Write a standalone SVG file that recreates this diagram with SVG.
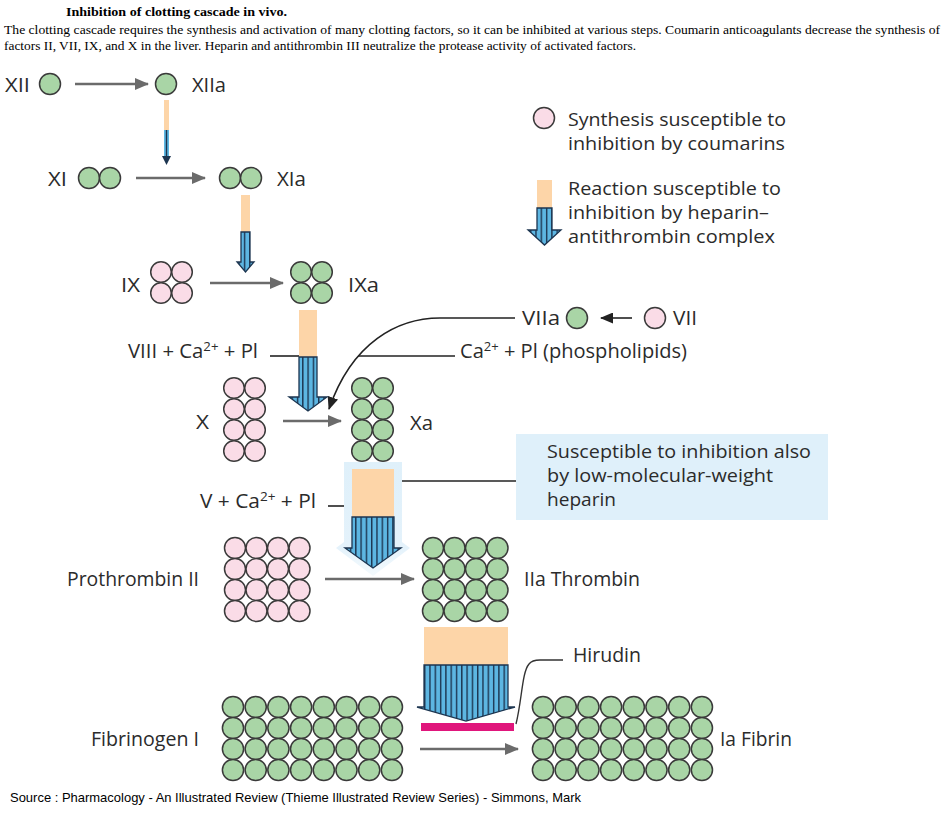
<svg xmlns="http://www.w3.org/2000/svg" width="944" height="813" viewBox="0 0 944 813">
<style>
.hdr{font-family:"Liberation Serif","Times New Roman",serif;font-size:13.5px;fill:#000}
.lbl{font-family:"Open Sans","Noto Sans",sans-serif;font-size:20px;fill:#2b2b2b}
.ml{font-size:19px}
.src{font-family:"Liberation Sans",Arial,sans-serif;font-size:13.5px;fill:#000}
.g{fill:#a9d5a6;stroke:#3a3a3a;stroke-width:1.5}
.p{fill:#fadce7;stroke:#3a3a3a;stroke-width:1.5}
.beige{fill:#fdd5a8}
.conv{stroke:#6b6b6b;stroke-width:2.5;fill:none}
.blk{stroke:#222;stroke-width:1.6;fill:none}
.striped{fill:url(#stripes);stroke:#1c3550;stroke-width:1.3}
</style>
<defs>
<pattern id="stripes" width="5.3" height="10" patternUnits="userSpaceOnUse">
<rect width="5.3" height="10" fill="#5db6e2"/>
<rect x="0" width="1.4" height="10" fill="#1c3550"/>
</pattern>
<linearGradient id="glow" x1="0" y1="0" x2="0" y2="1">
<stop offset="0" stop-color="#dff0fa"/>
<stop offset="0.75" stop-color="#e4f2fb"/>
<stop offset="1" stop-color="#f4fafd"/>
</linearGradient>
<marker id="ah" markerUnits="userSpaceOnUse" markerWidth="14" markerHeight="12" refX="13" refY="6" orient="auto">
<path d="M0,0 L14,6 L0,12 Z" fill="#6b6b6b"/>
</marker>
<marker id="bh" markerUnits="userSpaceOnUse" markerWidth="13" markerHeight="11" refX="12" refY="5.5" orient="auto">
<path d="M0,0 L13,5.5 L0,11 Z" fill="#222"/>
</marker>
</defs>
<rect width="944" height="813" fill="#fff"/>

<g id="header">
<text class="hdr" x="66" y="16" font-weight="bold" textLength="221" lengthAdjust="spacingAndGlyphs">Inhibition of clotting cascade in vivo.</text>
<text class="hdr" x="4" y="34" textLength="936" lengthAdjust="spacingAndGlyphs">The clotting cascade requires the synthesis and activation of many clotting factors, so it can be inhibited at various steps. Coumarin anticoagulants decrease the synthesis of</text>
<text class="hdr" x="4" y="50" textLength="632" lengthAdjust="spacingAndGlyphs">factors II, VII, IX, and X in the liver. Heparin and antithrombin III neutralize the protease activity of activated factors.</text>
</g>

<g id="connectors">
<line class="conv" x1="75" y1="84" x2="148" y2="84" marker-end="url(#ah)"/>
<line class="conv" x1="136" y1="178" x2="205" y2="178" marker-end="url(#ah)"/>
<line class="conv" x1="210" y1="283" x2="283" y2="283" marker-end="url(#ah)"/>
<line class="conv" x1="283" y1="421" x2="341" y2="421" marker-end="url(#ah)"/>
<line class="conv" x1="325" y1="579" x2="414" y2="579" marker-end="url(#ah)"/>
<line class="conv" x1="420" y1="749" x2="518" y2="749" marker-end="url(#ah)"/>
<line class="blk" x1="632" y1="318" x2="601" y2="318" marker-end="url(#bh)"/>
<path class="blk" d="M515,318 L440,318 C398,318 352,342 329,409" marker-end="url(#bh)"/>
<line class="blk" x1="270" y1="356" x2="300" y2="356"/>
<line class="blk" x1="358" y1="356" x2="455" y2="356"/>
<line class="blk" x1="328" y1="506" x2="352" y2="506"/>
<line class="blk" x1="398" y1="481" x2="516" y2="481"/>
<path d="M516,724 C522,700 522,672 529,664 Q532,660 540,660 L563,660" fill="none" stroke="#333" stroke-width="1.4"/>
</g>

<g id="inhibition-arrows">
<rect class="beige" x="164" y="100" width="5" height="30"/>
<rect x="164" y="130" width="5" height="26" fill="#5db6e2"/>
<line x1="166.5" y1="130" x2="166.5" y2="158" stroke="#1c3550" stroke-width="1.4"/>
<path d="M162,156 L171,156 L166.5,165 Z" fill="#1c3550"/>
<rect class="beige" x="241" y="195" width="9" height="37"/>
<path class="striped" d="M241,232 L250,232 L250,262 L254,262 L245.5,272 L237,262 L241,262 Z"/>
<rect class="beige" x="299" y="310" width="18" height="47"/>
<path class="striped" d="M299,357 L317,357 L317,397 L327,397 L308,411 L289,397 L299,397 Z"/>
<path d="M344,462 L402,462 L402,542 L410,548 L373,576 L336,548 L344,542 Z" fill="url(#glow)"/>
<rect class="beige" x="352" y="469" width="42" height="48"/>
<path class="striped" d="M352,517 L394,517 L394,548 L401,548 L373,568 L345,548 L352,548 Z"/>
<rect class="beige" x="424" y="627" width="84" height="38"/>
<path class="striped" d="M424,665 L508,665 L508,707 L515,707 L466,721 L417,707 L424,707 Z"/>
<rect x="421" y="723" width="93" height="8" fill="#e0167c"/>
</g>

<g id="legend">
<circle class="p" cx="544" cy="118" r="10.5"/>
<text class="lbl ml" x="568" y="126" textLength="218" lengthAdjust="spacingAndGlyphs">Synthesis susceptible to</text>
<text class="lbl ml" x="568" y="150" textLength="217" lengthAdjust="spacingAndGlyphs">inhibition by coumarins</text>
<rect class="beige" x="537" y="180" width="15" height="28"/>
<path class="striped" d="M537,208 L552,208 L552,230 L561,230 L544.5,245 L528,230 L537,230 Z"/>
<text class="lbl ml" x="568" y="195" textLength="213" lengthAdjust="spacingAndGlyphs">Reaction susceptible to</text>
<text class="lbl ml" x="568" y="219" textLength="201" lengthAdjust="spacingAndGlyphs">inhibition by heparin–</text>
<text class="lbl ml" x="568" y="243" textLength="207" lengthAdjust="spacingAndGlyphs">antithrombin complex</text>
</g>

<g id="XII">
<text class="lbl" x="5" y="92" textLength="25" lengthAdjust="spacingAndGlyphs">XII</text>
<circle class="g" cx="50" cy="84" r="10.5"/>
</g>
<g id="XIIa">
<circle class="g" cx="166" cy="84" r="10.5"/>
<text class="lbl" x="192" y="92" textLength="34" lengthAdjust="spacingAndGlyphs">XIIa</text>
</g>
<g id="XI">
<text class="lbl" x="48" y="186" textLength="19" lengthAdjust="spacingAndGlyphs">XI</text>
<circle class="g" cx="89" cy="178" r="10.5"/>
<circle class="g" cx="110" cy="178" r="10.5"/>
</g>
<g id="XIa">
<circle class="g" cx="230" cy="178" r="10.5"/>
<circle class="g" cx="251" cy="178" r="10.5"/>
<text class="lbl" x="277" y="186" textLength="29" lengthAdjust="spacingAndGlyphs">XIa</text>
</g>
<g id="IX">
<text class="lbl" x="121" y="292" textLength="19" lengthAdjust="spacingAndGlyphs">IX</text>
<circle class="p" cx="161" cy="272" r="10.3"/><circle class="p" cx="182" cy="272" r="10.3"/>
<circle class="p" cx="161" cy="293" r="10.3"/><circle class="p" cx="182" cy="293" r="10.3"/>
</g>
<g id="IXa">
<circle class="g" cx="301" cy="272" r="10.3"/><circle class="g" cx="322" cy="272" r="10.3"/>
<circle class="g" cx="301" cy="293" r="10.3"/><circle class="g" cx="322" cy="293" r="10.3"/>
<text class="lbl" x="348" y="292" textLength="31" lengthAdjust="spacingAndGlyphs">IXa</text>
</g>
<g id="cofactor-VIII">
<text class="lbl" x="128" y="358" textLength="130" lengthAdjust="spacingAndGlyphs">VIII + Ca<tspan font-size="13" dy="-7">2+</tspan><tspan dy="7"> + Pl</tspan></text>
</g>
<g id="cofactor-Pl">
<text class="lbl" x="460" y="358" textLength="227" lengthAdjust="spacingAndGlyphs">Ca<tspan font-size="13" dy="-7">2+</tspan><tspan dy="7"> + Pl (phospholipids)</tspan></text>
</g>
<g id="VIIa">
<text class="lbl" x="522" y="325" textLength="38" lengthAdjust="spacingAndGlyphs">VIIa</text>
<circle class="g" cx="577" cy="318" r="10.5"/>
</g>
<g id="VII">
<circle class="p" cx="655" cy="318" r="10.5"/>
<text class="lbl" x="673" y="325" textLength="24" lengthAdjust="spacingAndGlyphs">VII</text>
</g>
<g id="X">
<text class="lbl" x="196" y="429" textLength="13" lengthAdjust="spacingAndGlyphs">X</text>
<circle class="p" cx="234" cy="388" r="10.3"/><circle class="p" cx="255" cy="388" r="10.3"/>
<circle class="p" cx="234" cy="409" r="10.3"/><circle class="p" cx="255" cy="409" r="10.3"/>
<circle class="p" cx="234" cy="430" r="10.3"/><circle class="p" cx="255" cy="430" r="10.3"/>
<circle class="p" cx="234" cy="451" r="10.3"/><circle class="p" cx="255" cy="451" r="10.3"/>
</g>
<g id="Xa">
<circle class="g" cx="362" cy="388" r="10.3"/><circle class="g" cx="383" cy="388" r="10.3"/>
<circle class="g" cx="362" cy="409" r="10.3"/><circle class="g" cx="383" cy="409" r="10.3"/>
<circle class="g" cx="362" cy="430" r="10.3"/><circle class="g" cx="383" cy="430" r="10.3"/>
<circle class="g" cx="362" cy="451" r="10.3"/><circle class="g" cx="383" cy="451" r="10.3"/>
<text class="lbl" x="410" y="430" textLength="23" lengthAdjust="spacingAndGlyphs">Xa</text>
</g>
<g id="cofactor-V">
<text class="lbl" x="200" y="508" textLength="116" lengthAdjust="spacingAndGlyphs">V + Ca<tspan font-size="13" dy="-7">2+</tspan><tspan dy="7"> + Pl</tspan></text>
</g>
<g id="lmwh-note">
<rect x="516" y="434" width="312" height="86" fill="#dff0fa"/>
<text class="lbl ml" x="547" y="458" textLength="264" lengthAdjust="spacingAndGlyphs">Susceptible to inhibition also</text>
<text class="lbl ml" x="547" y="482" textLength="226" lengthAdjust="spacingAndGlyphs">by low-molecular-weight</text>
<text class="lbl ml" x="547" y="506" textLength="69" lengthAdjust="spacingAndGlyphs">heparin</text>
</g>
<g id="prothrombin">
<text class="lbl" x="67" y="586" textLength="132" lengthAdjust="spacingAndGlyphs">Prothrombin II</text>
<g class="p">
<circle cx="235" cy="548" r="10.5"/><circle cx="256.5" cy="548" r="10.5"/><circle cx="278" cy="548" r="10.5"/><circle cx="299.5" cy="548" r="10.5"/>
<circle cx="235" cy="569" r="10.5"/><circle cx="256.5" cy="569" r="10.5"/><circle cx="278" cy="569" r="10.5"/><circle cx="299.5" cy="569" r="10.5"/>
<circle cx="235" cy="590" r="10.5"/><circle cx="256.5" cy="590" r="10.5"/><circle cx="278" cy="590" r="10.5"/><circle cx="299.5" cy="590" r="10.5"/>
<circle cx="235" cy="611" r="10.5"/><circle cx="256.5" cy="611" r="10.5"/><circle cx="278" cy="611" r="10.5"/><circle cx="299.5" cy="611" r="10.5"/>
</g>
</g>
<g id="thrombin">
<g class="g">
<circle cx="433" cy="548" r="10.5"/><circle cx="454.5" cy="548" r="10.5"/><circle cx="476" cy="548" r="10.5"/><circle cx="497.5" cy="548" r="10.5"/>
<circle cx="433" cy="569" r="10.5"/><circle cx="454.5" cy="569" r="10.5"/><circle cx="476" cy="569" r="10.5"/><circle cx="497.5" cy="569" r="10.5"/>
<circle cx="433" cy="590" r="10.5"/><circle cx="454.5" cy="590" r="10.5"/><circle cx="476" cy="590" r="10.5"/><circle cx="497.5" cy="590" r="10.5"/>
<circle cx="433" cy="611" r="10.5"/><circle cx="454.5" cy="611" r="10.5"/><circle cx="476" cy="611" r="10.5"/><circle cx="497.5" cy="611" r="10.5"/>
</g>
<text class="lbl" x="524" y="586" textLength="116" lengthAdjust="spacingAndGlyphs">IIa Thrombin</text>
</g>
<g id="hirudin">
<text class="lbl" x="573" y="662" textLength="68" lengthAdjust="spacingAndGlyphs">Hirudin</text>
</g>
<g id="fibrinogen">
<text class="lbl" x="91" y="746" textLength="108" lengthAdjust="spacingAndGlyphs">Fibrinogen I</text>
<g class="g">
<circle cx="233" cy="707" r="10.6"/><circle cx="255.7" cy="707" r="10.6"/><circle cx="278.4" cy="707" r="10.6"/><circle cx="301.1" cy="707" r="10.6"/><circle cx="323.8" cy="707" r="10.6"/><circle cx="346.5" cy="707" r="10.6"/><circle cx="369.2" cy="707" r="10.6"/><circle cx="391.9" cy="707" r="10.6"/>
<circle cx="233" cy="728" r="10.6"/><circle cx="255.7" cy="728" r="10.6"/><circle cx="278.4" cy="728" r="10.6"/><circle cx="301.1" cy="728" r="10.6"/><circle cx="323.8" cy="728" r="10.6"/><circle cx="346.5" cy="728" r="10.6"/><circle cx="369.2" cy="728" r="10.6"/><circle cx="391.9" cy="728" r="10.6"/>
<circle cx="233" cy="749" r="10.6"/><circle cx="255.7" cy="749" r="10.6"/><circle cx="278.4" cy="749" r="10.6"/><circle cx="301.1" cy="749" r="10.6"/><circle cx="323.8" cy="749" r="10.6"/><circle cx="346.5" cy="749" r="10.6"/><circle cx="369.2" cy="749" r="10.6"/><circle cx="391.9" cy="749" r="10.6"/>
<circle cx="233" cy="770" r="10.6"/><circle cx="255.7" cy="770" r="10.6"/><circle cx="278.4" cy="770" r="10.6"/><circle cx="301.1" cy="770" r="10.6"/><circle cx="323.8" cy="770" r="10.6"/><circle cx="346.5" cy="770" r="10.6"/><circle cx="369.2" cy="770" r="10.6"/><circle cx="391.9" cy="770" r="10.6"/>
</g>
</g>
<g id="fibrin">
<g class="g">
<circle cx="543" cy="707" r="10.6"/><circle cx="565.7" cy="707" r="10.6"/><circle cx="588.4" cy="707" r="10.6"/><circle cx="611.1" cy="707" r="10.6"/><circle cx="633.8" cy="707" r="10.6"/><circle cx="656.5" cy="707" r="10.6"/><circle cx="679.2" cy="707" r="10.6"/><circle cx="701.9" cy="707" r="10.6"/>
<circle cx="543" cy="728" r="10.6"/><circle cx="565.7" cy="728" r="10.6"/><circle cx="588.4" cy="728" r="10.6"/><circle cx="611.1" cy="728" r="10.6"/><circle cx="633.8" cy="728" r="10.6"/><circle cx="656.5" cy="728" r="10.6"/><circle cx="679.2" cy="728" r="10.6"/><circle cx="701.9" cy="728" r="10.6"/>
<circle cx="543" cy="749" r="10.6"/><circle cx="565.7" cy="749" r="10.6"/><circle cx="588.4" cy="749" r="10.6"/><circle cx="611.1" cy="749" r="10.6"/><circle cx="633.8" cy="749" r="10.6"/><circle cx="656.5" cy="749" r="10.6"/><circle cx="679.2" cy="749" r="10.6"/><circle cx="701.9" cy="749" r="10.6"/>
<circle cx="543" cy="770" r="10.6"/><circle cx="565.7" cy="770" r="10.6"/><circle cx="588.4" cy="770" r="10.6"/><circle cx="611.1" cy="770" r="10.6"/><circle cx="633.8" cy="770" r="10.6"/><circle cx="656.5" cy="770" r="10.6"/><circle cx="679.2" cy="770" r="10.6"/><circle cx="701.9" cy="770" r="10.6"/>
</g>
<text class="lbl" x="720" y="746" textLength="72" lengthAdjust="spacingAndGlyphs">Ia Fibrin</text>
</g>
<g id="source">
<text class="src" x="10" y="802" textLength="571" lengthAdjust="spacingAndGlyphs">Source : Pharmacology - An Illustrated Review (Thieme Illustrated Review Series) - Simmons, Mark</text>
</g>
</svg>
